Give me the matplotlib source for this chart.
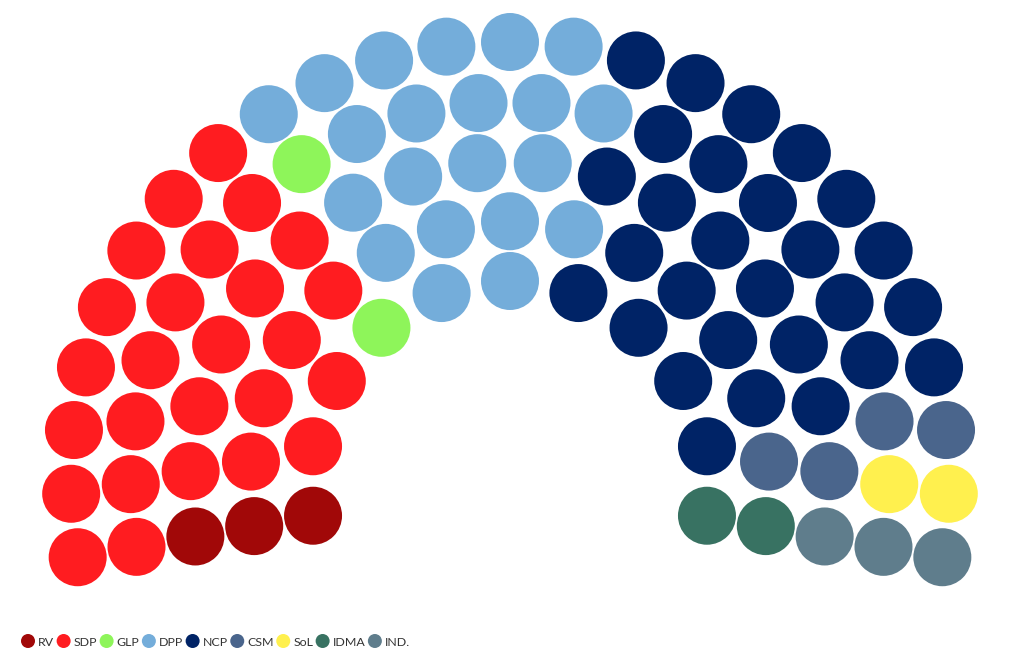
import numpy as np
import matplotlib
matplotlib.use("Agg")
import matplotlib.pyplot as plt
from matplotlib.patches import Circle

# ---- data ----
parties = ["RV", "SDP", "GLP", "DPP", "NCP", "CSM", "SoL", "IDMA", "IND."]
seats = [3, 26, 2, 21, 28, 4, 2, 2, 3]
colors = ["#A10808", "#FF1C20", "#8EF55A", "#74ADDA", "#002366",
          "#4A658C", "#FFF04E", "#387262", "#5F7D8C"]

# ---- layout ----
W, H = 1015, 666
fig = plt.figure(figsize=(W / 100, H / 100), dpi=100)
ax = fig.add_axes([0, 0, 1, 1])
ax.set_xlim(0, W)
ax.set_ylim(H, 0)
ax.axis("off")

cx, cy = 510, 481
radii = np.linspace(200, 439, 5)          # inner -> outer rows
row_counts = [11, 15, 18, 22, 25]
start, end = 190.0, -10.0
seat_r = 29

slots = []
for ri, (R, n) in enumerate(zip(radii, row_counts)):
    for i in range(n):
        ang = start + (end - start) * i / (n - 1)
        slots.append((round(-ang, 6), ri, R, ang))
slots.sort(key=lambda s: (s[0], s[1]))

seat_colors = []
for c, n in zip(colors, seats):
    seat_colors += [c] * n

for (key, ri, R, ang), col in zip(slots, seat_colors):
    a = np.deg2rad(ang)
    x = cx + R * np.cos(a)
    y = cy - R * np.sin(a)
    ax.add_patch(Circle((x, y), seat_r, facecolor=col, edgecolor="none"))

# ---- legend ----
fig.canvas.draw()
renderer = fig.canvas.get_renderer()
lx = 21
ly = 641
mr = 7
for name, col in zip(parties, colors):
    ax.add_patch(Circle((lx + mr, ly), mr, facecolor=col, edgecolor="none"))
    t = ax.text(lx + 2 * mr + 3, ly, name, fontsize=8.9, family="Lato",
                color="#333333", va="center_baseline", ha="left")
    bb = t.get_window_extent(renderer=renderer)
    lx = lx + 2 * mr + 3 + bb.width + 2.5

fig.savefig("out.png", dpi=100, facecolor="white")
